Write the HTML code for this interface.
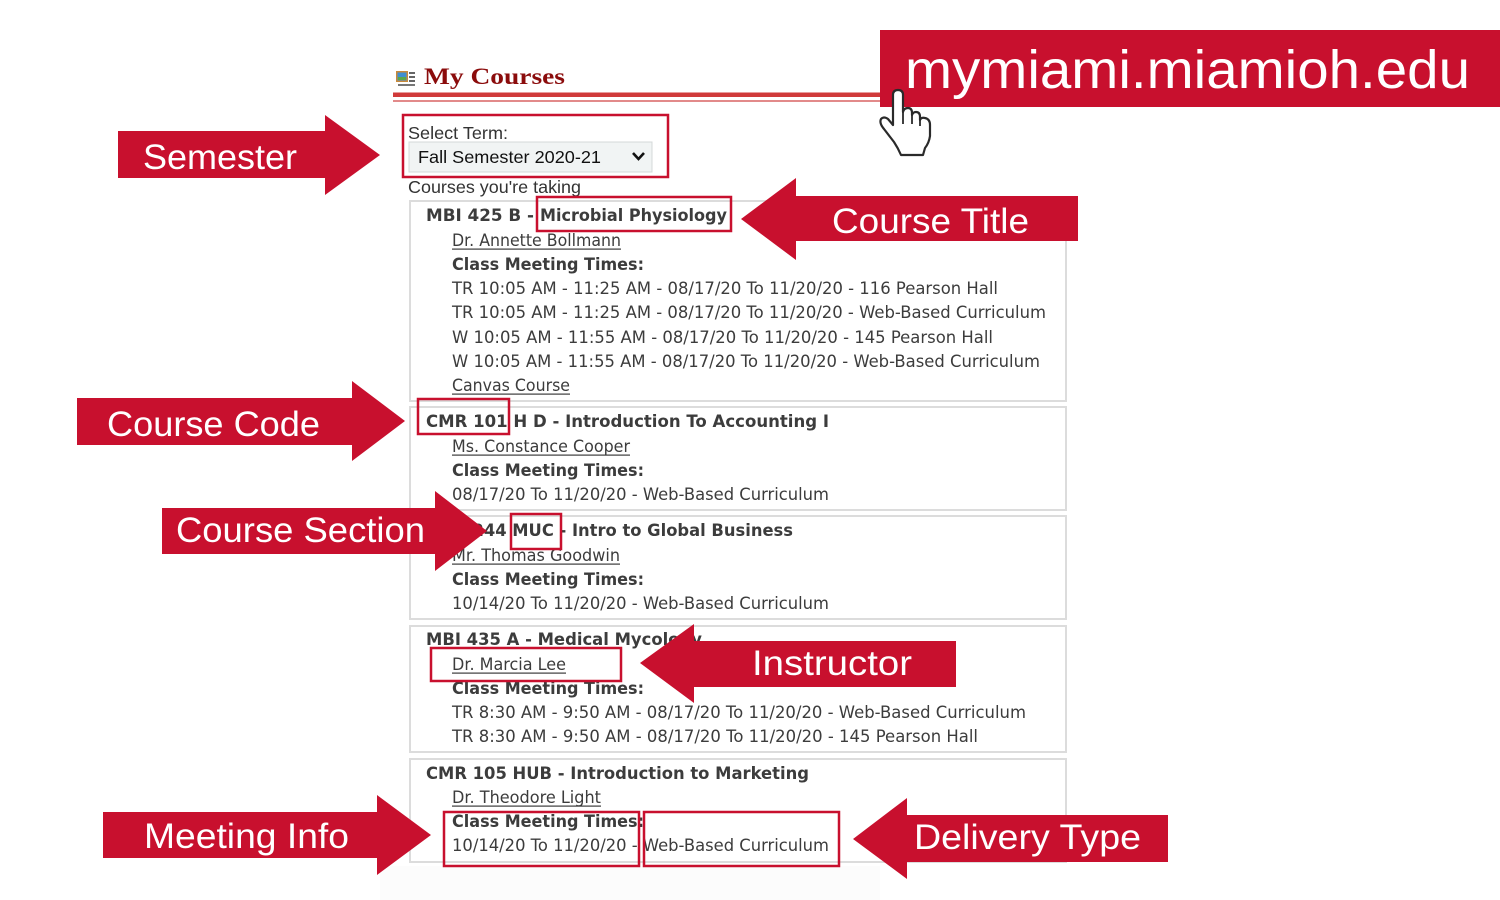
<!DOCTYPE html>
<html>
<head>
<meta charset="utf-8">
<style>
html,body{margin:0;padding:0;background:#fff;}
svg{display:block;}
.t{font-family:"DejaVu Sans","Liberation Sans",sans-serif;font-size:17px;fill:#3c3c3c;}
.b{font-family:"DejaVu Sans","Liberation Sans",sans-serif;font-size:17px;font-weight:bold;fill:#3c3c3c;}
.h{font-family:"Liberation Sans",sans-serif;font-size:17.5px;fill:#333;}
.w{font-family:"Liberation Sans",sans-serif;font-size:35px;fill:#fff;}
</style>
</head>
<body>
<svg width="1500" height="900" viewBox="0 0 1500 900" xmlns="http://www.w3.org/2000/svg">
<rect width="1500" height="900" fill="#fff"/>
<rect x="380" y="866" width="500" height="34" fill="#fcfcfc"/>

<!-- header -->
<rect x="396" y="71" width="12" height="11" fill="#c98a3a"/>
<rect x="397.5" y="72.5" width="9" height="8" fill="#3f8fd0"/>
<rect x="398" y="77" width="8" height="3" fill="#5aa84a"/>
<rect x="409" y="72" width="6" height="2" fill="#666"/>
<rect x="409" y="76" width="6" height="2" fill="#666"/>
<rect x="409" y="80" width="6" height="2" fill="#666"/>
<rect x="398" y="84" width="17" height="2" fill="#777"/>
<text x="424" y="84" font-family="Liberation Serif, serif" font-weight="bold" font-size="23" fill="#8b0c0c" textLength="141" lengthAdjust="spacingAndGlyphs">My Courses</text>
<rect x="393" y="92.5" width="490" height="4.5" fill="#d03a3a"/>
<rect x="393" y="100" width="490" height="2" fill="#e28a8a"/>

<!-- select term -->
<text class="h" x="408" y="139" textLength="100" lengthAdjust="spacingAndGlyphs">Select Term:</text>
<rect x="409" y="142" width="243" height="30" fill="#f1f4f4" stroke="#d4d8d8" stroke-width="1"/>
<text class="h" x="418" y="163" style="fill:#111" textLength="183" lengthAdjust="spacingAndGlyphs">Fall Semester 2020-21</text>
<polyline points="633,153 638.5,159 644,153" fill="none" stroke="#111" stroke-width="2.6"/>
<rect x="403" y="115" width="265" height="62" fill="none" stroke="#c8102e" stroke-width="2.5"/>
<text class="h" x="408" y="193" textLength="173" lengthAdjust="spacingAndGlyphs">Courses you're taking</text>

<!-- course boxes -->
<g fill="none" stroke="#dcdcdc" stroke-width="2">
<rect x="410" y="201" width="656" height="200"/>
<rect x="410" y="407" width="656" height="103"/>
<rect x="410" y="516" width="656" height="103"/>
<rect x="410" y="626" width="656" height="126"/>
<rect x="410" y="759" width="656" height="103"/>
</g>

<!-- box 1 -->
<text class="b" x="426" y="221" textLength="108" lengthAdjust="spacingAndGlyphs">MBI 425 B -</text>
<text class="b" x="540" y="221" textLength="187" lengthAdjust="spacingAndGlyphs">Microbial Physiology</text>
<text class="t" x="452" y="246" textLength="169" lengthAdjust="spacingAndGlyphs">Dr. Annette Bollmann</text>
<rect x="452" y="248.5" width="169" height="1.2" fill="#3c3c3c"/>
<text class="b" x="452" y="270" textLength="192" lengthAdjust="spacingAndGlyphs">Class Meeting Times:</text>
<text class="t" x="452" y="294" textLength="546" lengthAdjust="spacingAndGlyphs">TR 10:05 AM - 11:25 AM - 08/17/20 To 11/20/20 - 116 Pearson Hall</text>
<text class="t" x="452" y="318" textLength="594" lengthAdjust="spacingAndGlyphs">TR 10:05 AM - 11:25 AM - 08/17/20 To 11/20/20 - Web-Based Curriculum</text>
<text class="t" x="452" y="343" textLength="541" lengthAdjust="spacingAndGlyphs">W 10:05 AM - 11:55 AM - 08/17/20 To 11/20/20 - 145 Pearson Hall</text>
<text class="t" x="452" y="367" textLength="588" lengthAdjust="spacingAndGlyphs">W 10:05 AM - 11:55 AM - 08/17/20 To 11/20/20 - Web-Based Curriculum</text>
<text class="t" x="452" y="391" textLength="118" lengthAdjust="spacingAndGlyphs">Canvas Course</text>
<rect x="452" y="393.5" width="118" height="1.2" fill="#3c3c3c"/>

<!-- box 2 -->
<text class="b" x="426" y="427" textLength="403" lengthAdjust="spacingAndGlyphs">CMR 101 H D - Introduction To Accounting I</text>
<text class="t" x="452" y="452" textLength="178" lengthAdjust="spacingAndGlyphs">Ms. Constance Cooper</text>
<rect x="452" y="454.5" width="178" height="1.2" fill="#3c3c3c"/>
<text class="b" x="452" y="476" textLength="192" lengthAdjust="spacingAndGlyphs">Class Meeting Times:</text>
<text class="t" x="452" y="500" textLength="377" lengthAdjust="spacingAndGlyphs">08/17/20 To 11/20/20 - Web-Based Curriculum</text>

<!-- box 3 -->
<text class="b" x="426" y="536" textLength="367" lengthAdjust="spacingAndGlyphs">CMR 244 MUC - Intro to Global Business</text>
<text class="t" x="452" y="561" textLength="168" lengthAdjust="spacingAndGlyphs">Mr. Thomas Goodwin</text>
<rect x="452" y="563.5" width="168" height="1.2" fill="#3c3c3c"/>
<text class="b" x="452" y="585" textLength="192" lengthAdjust="spacingAndGlyphs">Class Meeting Times:</text>
<text class="t" x="452" y="609" textLength="377" lengthAdjust="spacingAndGlyphs">10/14/20 To 11/20/20 - Web-Based Curriculum</text>

<!-- box 4 -->
<text class="b" x="426" y="645" textLength="276" lengthAdjust="spacingAndGlyphs">MBI 435 A - Medical Mycology</text>
<text class="t" x="452" y="670" textLength="114" lengthAdjust="spacingAndGlyphs">Dr. Marcia Lee</text>
<rect x="452" y="672.5" width="114" height="1.2" fill="#3c3c3c"/>
<text class="b" x="452" y="694" textLength="192" lengthAdjust="spacingAndGlyphs">Class Meeting Times:</text>
<text class="t" x="452" y="718" textLength="574" lengthAdjust="spacingAndGlyphs">TR 8:30 AM - 9:50 AM - 08/17/20 To 11/20/20 - Web-Based Curriculum</text>
<text class="t" x="452" y="742" textLength="526" lengthAdjust="spacingAndGlyphs">TR 8:30 AM - 9:50 AM - 08/17/20 To 11/20/20 - 145 Pearson Hall</text>

<!-- box 5 -->
<text class="b" x="426" y="779" textLength="383" lengthAdjust="spacingAndGlyphs">CMR 105 HUB - Introduction to Marketing</text>
<text class="t" x="452" y="803" textLength="149" lengthAdjust="spacingAndGlyphs">Dr. Theodore Light</text>
<rect x="452" y="805.5" width="149" height="1.2" fill="#3c3c3c"/>
<text class="b" x="452" y="827" textLength="192" lengthAdjust="spacingAndGlyphs">Class Meeting Times:</text>
<text class="t" x="452" y="851" textLength="377" lengthAdjust="spacingAndGlyphs">10/14/20 To 11/20/20 - Web-Based Curriculum</text>

<!-- highlight boxes -->
<g fill="none" stroke="#c8102e" stroke-width="2.5">
<rect x="537" y="197" width="194" height="34"/>
<rect x="418" y="399" width="91" height="35"/>
<rect x="511" y="514" width="50" height="35"/>
<rect x="431" y="648" width="190" height="33"/>
<rect x="444" y="812" width="195" height="54"/>
<rect x="644" y="812" width="195" height="54"/>
</g>

<!-- arrows -->
<g fill="#c8102e">
<polygon points="118,131 325,131 325,115 380,155 325,195 325,178 118,178"/>
<polygon points="1078,196 796,196 796,178 741,219 796,260 796,241 1078,241"/>
<polygon points="77,398 352,398 352,381 405,421 352,461 352,445 77,445"/>
<polygon points="162,508 435,508 435,491 487,531 435,571 435,554 162,554"/>
<polygon points="956,641 694,641 694,624 640,663 694,703 694,687 956,687"/>
<polygon points="103,812 377,812 377,795 431,835 377,875 377,858 103,858"/>
<polygon points="1168,815 907,815 907,798 853,839 907,879 907,862 1168,862"/>
</g>
<text class="w" x="143" y="169" textLength="154" lengthAdjust="spacingAndGlyphs">Semester</text>
<text class="w" x="832" y="233" textLength="197" lengthAdjust="spacingAndGlyphs">Course Title</text>
<text class="w" x="107" y="436" textLength="213" lengthAdjust="spacingAndGlyphs">Course Code</text>
<text class="w" x="176" y="542" textLength="249" lengthAdjust="spacingAndGlyphs">Course Section</text>
<text class="w" x="752" y="675" textLength="160" lengthAdjust="spacingAndGlyphs">Instructor</text>
<text class="w" x="144" y="848" textLength="205" lengthAdjust="spacingAndGlyphs">Meeting Info</text>
<text class="w" x="914" y="849" textLength="227" lengthAdjust="spacingAndGlyphs">Delivery Type</text>

<!-- banner -->
<rect x="880" y="30" width="620" height="77" fill="#c8102e"/>
<text x="905" y="88" font-family="Liberation Sans, sans-serif" font-size="54" fill="#fff" textLength="565" lengthAdjust="spacingAndGlyphs">mymiami.miamioh.edu</text>

<!-- hand cursor -->
<path d="M893,95 Q893,90 898,90 Q903,90 903,95 L903,112 Q904,108 908,108 Q912,108 912,113 L912,115 Q913,112 916,112 Q920,112 920,117 L920,120 Q921,117 925,118 Q930,119 930,125 L930,136 Q929,143 925,148 L923,155 L901,155 Q898,148 894,142 L884,129 Q879,123 881,119 Q884,116 888,119 L893,125 Z" fill="#fff" stroke="#2a2a2a" stroke-width="2.2" stroke-linejoin="round"/>
<line x1="903" y1="112" x2="903" y2="124" stroke="#2a2a2a" stroke-width="1.8"/>
<line x1="912" y1="115" x2="912" y2="124" stroke="#2a2a2a" stroke-width="1.8"/>
<line x1="920" y1="120" x2="920" y2="126" stroke="#2a2a2a" stroke-width="1.8"/>
</svg>
</body>
</html>
